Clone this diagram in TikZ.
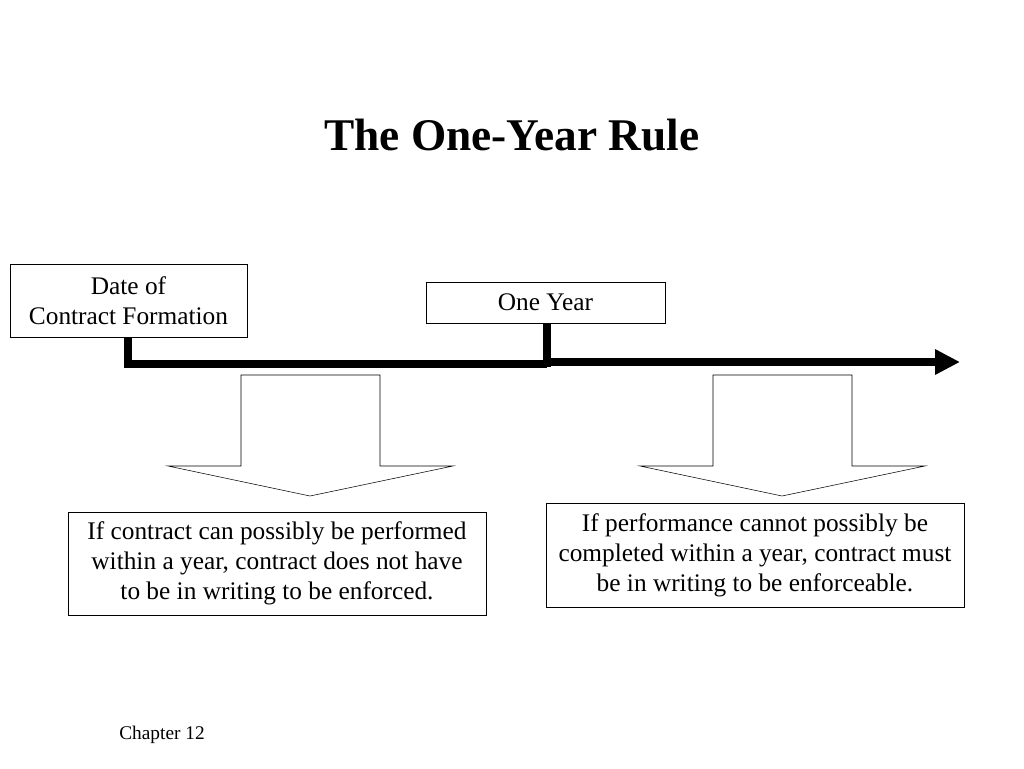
\documentclass[tikz,border=0pt]{standalone}
\usepackage{fontspec}
\setmainfont{Liberation Serif}
\usetikzlibrary{positioning,arrows.meta}

\tikzset{
  box/.style={draw, thin, align=center, inner sep=0pt, font=\fontsize{19}{22.5}\selectfont},
  note/.style={draw, thin, align=center, inner sep=0pt, font=\fontsize{19}{22.5}\selectfont},
  bar/.style={line width=6pt},
  blockarrow/.style={draw, thin, fill=white}
}

\begin{document}
\begin{tikzpicture}[x=0.75pt, y=-0.75pt]
    \useasboundingbox (0,0) rectangle (1024,768);

    % Title
    \node[font=\bfseries\fontsize{34}{40}\selectfont] (title) at (512,135) {The One-Year Rule};

    % Timeline labels
    \node[box, minimum width=237*0.75pt, minimum height=73*0.75pt] (formation) at (128.5,300.5) {Date of\\Contract Formation};
    \node[box, minimum width=239*0.75pt, minimum height=41*0.75pt] (year) at (545.5,302.5) {One Year};

    % Timeline
    \coordinate (start) at (128,364);
    \coordinate (mark) at (547,364);
    \coordinate (tip) at (960,362);
    \draw[bar] (formation.south -| start) -- (start) -- (mark);
    \draw[bar] (year.south -| mark) -- (mark |- 0,367);
    \draw[bar, -{Triangle[length=25*0.75pt, width=24*0.75pt]}] (547,362) -- (tip);

    % Block arrows
    \foreach \cx in {310,782} {
        \draw[blockarrow] (\cx-69,375) -- (\cx+70,375) -- (\cx+70,466) -- (\cx+143,466)
            -- (\cx,496) -- (\cx-142,466) -- (\cx-69,466) -- cycle;
    }

    % Outcomes
    \node[note, minimum width=418*0.75pt, minimum height=103*0.75pt] (within) at (277,563.5)
        {If contract can possibly be performed\\within a year, contract does not have\\to be in writing to be enforced.};
    \node[note, minimum width=418*0.75pt, minimum height=104*0.75pt] (beyond) at (755,555)
        {If performance cannot possibly be\\completed within a year, contract must\\be in writing to be enforceable.};

    % Footer
    \node[font=\fontsize{14.5}{17}\selectfont] (chapter) at (162,735) {Chapter 12};
\end{tikzpicture}
\end{document}
